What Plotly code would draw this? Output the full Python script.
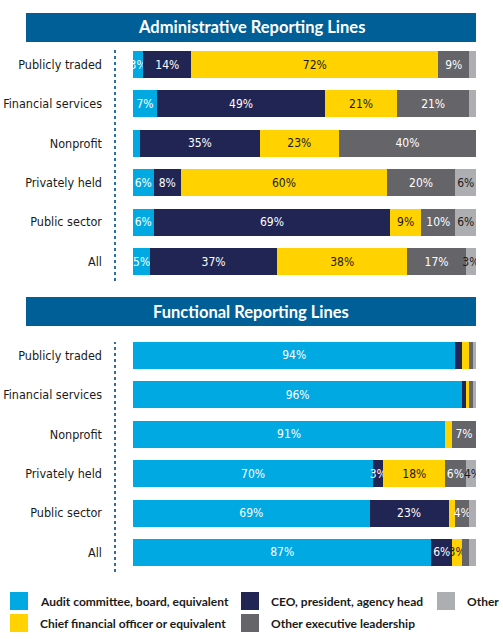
import plotly.graph_objects as go

# Data (percent of respondents)
sectors = ['Publicly traded', 'Financial services', 'Nonprofit', 'Privately held', 'Public sector', 'All']
series = ['Audit committee, board, equivalent', 'CEO, president, agency head',
          'Chief financial officer or equivalent', 'Other executive leadership', 'Other']

admin_audit = [3, 7, 2, 6, 6, 5]
admin_ceo = [14, 49, 35, 8, 69, 37]
admin_cfo = [72, 21, 23, 60, 9, 38]
admin_exec = [9, 21, 40, 20, 10, 17]
admin_other = [2, 2, 0, 6, 6, 3]

func_audit = [94, 96, 91, 70, 69, 87]
func_ceo = [2, 1, 0, 3, 23, 6]
func_cfo = [2, 1, 2, 18, 2, 3]
func_exec = [1, 1, 7, 6, 4, 2]
func_other = [1, 1, 0, 4, 2, 2]

colors = ['#00A9E2', '#212554', '#FFD200', '#646469', '#ADAEB1']
text_colors = ['white', 'white', '#1a1a1a', 'white', '#1a1a1a']
header_blue = '#005F96'
narrow = 'DejaVu Sans Condensed, Roboto, sans-serif'

W, H = 503, 639


def px_x(x):
    return x / W


def px_y(y):
    return 1 - y / H


fig = go.Figure()

panels = [
    ([admin_audit, admin_ceo, admin_cfo, admin_exec, admin_other], 'x', 'y'),
    ([func_audit, func_ceo, func_cfo, func_exec, func_other], 'x2', 'y2'),
]
for vals, xa, ya in panels:
    for i, v in enumerate(vals):
        fig.add_trace(go.Bar(
            y=sectors, x=v, orientation='h', name=series[i],
            marker=dict(color=colors[i], line=dict(width=0)),
            text=[f'{n}%' if n >= 3 else '' for n in v],
            textposition='inside', insidetextanchor='middle', textangle=0,
            constraintext='none',
            textfont=dict(family=narrow, size=12, color=text_colors[i]),
            xaxis=xa, yaxis=ya, showlegend=False, hoverinfo='skip',
        ))

bar_left, bar_right = px_x(133), px_x(476)
axis_common = dict(range=[0, 100], showgrid=False, zeroline=False, showticklabels=False,
                   fixedrange=True, automargin=False)
yaxis_common = dict(categoryorder='array', categoryarray=sectors, autorange='reversed',
                    showgrid=False, zeroline=False, ticks='', ticklabelstandoff=30,
                    automargin=False, fixedrange=True,
                    tickfont=dict(family=narrow, size=12.5, color='#1a1a1a'))

fig.update_layout(
    width=W, height=H,
    margin=dict(l=0, r=0, t=0, b=0, autoexpand=False),
    paper_bgcolor='white', plot_bgcolor='white',
    barmode='stack', bargap=0.31,
    uniformtext=dict(minsize=12, mode='show'),
    xaxis=dict(domain=[bar_left, bar_right], anchor='y', **axis_common),
    xaxis2=dict(domain=[bar_left, bar_right], anchor='y2', **axis_common),
    yaxis=dict(domain=[px_y(281.2), px_y(44.8)], anchor='x', **yaxis_common),
    yaxis2=dict(domain=[px_y(572.2), px_y(335.8)], anchor='x2', **yaxis_common),
)

# Section headers
for title, top, bottom in [('Administrative Reporting Lines', 13, 42),
                           ('Functional Reporting Lines', 297, 326)]:
    fig.add_shape(type='rect', xref='paper', yref='paper',
                  x0=px_x(26), x1=px_x(476), y0=px_y(bottom), y1=px_y(top),
                  fillcolor=header_blue, line=dict(width=0))
    fig.add_annotation(text=f'<b>{title}</b>', xref='paper', yref='paper',
                       x=px_x(251), y=px_y((top + bottom) / 2), yanchor='middle',
                       showarrow=False, font=dict(family='Lato', size=16.5, color='white'))

# Dotted separators between labels and bars
for top, bottom in [(50, 281), (342, 572)]:
    fig.add_shape(type='line', xref='paper', yref='paper',
                  x0=px_x(115), x1=px_x(115), y0=px_y(bottom), y1=px_y(top),
                  line=dict(color='#2a6fa8', width=2, dash='dot'))

# Legend
legend_items = [(0, 10, 592), (1, 241, 592), (4, 437, 592), (2, 10, 614), (3, 241, 614)]
for idx, lx, ly in legend_items:
    fig.add_shape(type='rect', xref='paper', yref='paper',
                  x0=px_x(lx), x1=px_x(lx + 18), y0=px_y(ly + 18), y1=px_y(ly),
                  fillcolor=colors[idx], line=dict(width=0))
    fig.add_annotation(text=f'<b>{series[idx]}</b>', xref='paper', yref='paper',
                       x=px_x(lx + 28), y=px_y(ly + 9), xanchor='left', yanchor='middle',
                       showarrow=False, font=dict(family='Lato', size=12, color='#1a1a1a'))

# drop the default page margin so the figure sits at the window's top-left corner
fig.write_html('out.html', config={'displayModeBar': False},
               post_script="document.body.style.margin = '0px';")
